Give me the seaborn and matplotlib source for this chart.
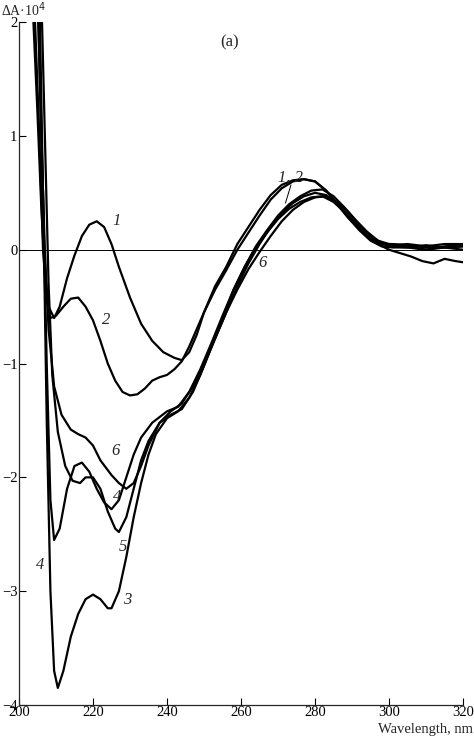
import matplotlib
matplotlib.use("Agg")
import matplotlib.pyplot as plt
import seaborn as sns
import pandas as pd

# wavelength (nm) / delta A * 1e4
c1_x = [203.5, 205, 206, 207, 208, 209.5, 211, 213, 215, 217, 219, 221, 223, 225, 227, 230, 233, 236, 239, 242, 244, 246, 248, 250, 253, 256, 259, 262, 265, 268, 271, 274, 277, 280, 283, 286, 289, 292, 295, 298, 301, 305, 310, 315, 320]
c1_y = [2.3, 1.2, 0.4, -0.2, -0.5, -0.6, -0.5, -0.25, -0.05, 0.12, 0.22, 0.25, 0.2, 0.05, -0.15, -0.42, -0.65, -0.8, -0.9, -0.95, -0.97, -0.9, -0.75, -0.55, -0.32, -0.15, 0.05, 0.2, 0.35, 0.48, 0.57, 0.61, 0.62, 0.6, 0.52, 0.4, 0.28, 0.17, 0.08, 0.03, 0.02, 0.02, 0.0, 0.03, 0.04]

c2_x = [204, 205.5, 206.5, 207.5, 208.5, 210, 212, 214, 216, 218, 220, 222, 224, 226, 228, 230, 232, 234, 236, 238, 240, 242, 244, 246, 248, 250, 253, 256, 259, 262, 265, 268, 271, 274, 277, 280, 283, 286, 289, 292, 295, 298, 301, 305, 310, 315, 320]
c2_y = [2.3, 1.0, 0.0, -0.45, -0.6, -0.58, -0.5, -0.43, -0.42, -0.5, -0.62, -0.8, -1.0, -1.15, -1.25, -1.28, -1.27, -1.22, -1.15, -1.12, -1.1, -1.05, -0.98, -0.85, -0.7, -0.55, -0.35, -0.18, 0.0, 0.15, 0.3, 0.44, 0.54, 0.6, 0.62, 0.6, 0.52, 0.4, 0.28, 0.18, 0.1, 0.05, 0.05, 0.04, 0.02, 0.02, 0.03]

c3_x = [205.5, 206.5, 207.5, 208.5, 209.5, 210.5, 212, 214, 216, 218, 220, 222, 224, 225, 227, 229, 231, 233, 235, 237, 240, 243, 246, 249, 252, 255, 258, 261, 264, 267, 270, 273, 276, 279, 282, 285, 288, 291, 294, 297, 300, 303, 306, 309, 312, 315, 318, 320]
c3_y = [2.3, 0.5, -1.5, -3.0, -3.7, -3.85, -3.7, -3.4, -3.2, -3.07, -3.03, -3.07, -3.15, -3.15, -3.0, -2.7, -2.35, -2.05, -1.8, -1.62, -1.48, -1.42, -1.3, -1.1, -0.85, -0.6, -0.35, -0.15, 0.02, 0.15, 0.27, 0.36, 0.42, 0.46, 0.47, 0.42, 0.33, 0.23, 0.13, 0.05, 0.0, -0.03, -0.06, -0.1, -0.12, -0.08, -0.1, -0.11]

c4_x = [205, 206.5, 207.5, 208.5, 209.5, 211, 213, 215, 217, 219, 221, 223, 225, 227, 229, 231, 233, 236, 240, 243, 246, 249, 252, 255, 258, 261, 264, 267, 270, 273, 276, 279, 282, 285, 288, 291, 294, 297, 300, 305, 310, 315, 320]
c4_y = [2.3, 0.5, -1.0, -2.2, -2.55, -2.45, -2.1, -1.9, -1.87, -1.95, -2.1, -2.22, -2.28, -2.2, -2.0, -1.8, -1.65, -1.52, -1.42, -1.38, -1.25, -1.05, -0.82, -0.58, -0.35, -0.15, 0.03, 0.17, 0.3, 0.4, 0.47, 0.52, 0.53, 0.47, 0.37, 0.26, 0.16, 0.08, 0.05, 0.03, 0.0, 0.02, 0.0]

c5_x = [206, 207, 208, 209, 210.5, 212.5, 214.5, 216.5, 218, 220, 222, 224, 226, 227, 229, 231, 233, 235, 238, 241, 244, 247, 250, 253, 256, 259, 262, 265, 268, 271, 274, 277, 280, 283, 286, 289, 292, 295, 298, 301, 305, 310, 315, 320]
c5_y = [2.3, 1.0, -0.3, -1.1, -1.6, -1.9, -2.03, -2.05, -2.0, -2.0, -2.1, -2.3, -2.45, -2.48, -2.35, -2.1, -1.85, -1.68, -1.52, -1.45, -1.4, -1.25, -1.02, -0.78, -0.55, -0.32, -0.12, 0.05, 0.2, 0.32, 0.41, 0.47, 0.5, 0.48, 0.4, 0.3, 0.2, 0.11, 0.05, 0.03, 0.02, 0.04, 0.02, 0.03]

c6_x = [205, 206, 207, 208, 209.5, 211.5, 214, 216, 218, 220, 222, 225, 227, 229, 231, 233, 235, 238, 241, 244, 247, 250, 253, 256, 259, 262, 265, 268, 271, 274, 277, 280, 283, 286, 289, 292, 295, 298, 301, 305, 310, 315, 320]
c6_y = [2.3, 1.0, 0.0, -0.7, -1.2, -1.45, -1.58, -1.62, -1.65, -1.72, -1.85, -1.98, -2.05, -2.1, -2.05, -1.9, -1.72, -1.52, -1.42, -1.35, -1.2, -1.0, -0.78, -0.55, -0.35, -0.17, -0.02, 0.12, 0.25, 0.35, 0.42, 0.46, 0.47, 0.42, 0.33, 0.22, 0.12, 0.06, 0.04, 0.05, 0.03, 0.05, 0.05]

curve_labels = ["1", "2", "3", "4", "5", "6"]
curves = [(c1_x, c1_y), (c2_x, c2_y), (c3_x, c3_y), (c4_x, c4_y), (c5_x, c5_y), (c6_x, c6_y)]

frames = []
for name, (xs, ys) in zip(curve_labels, curves):
    frames.append(pd.DataFrame({"wl": xs, "dA": ys, "curve": name}))
df = pd.concat(frames, ignore_index=True)

sns.set_style("ticks")
plt.rcParams["font.family"] = ["Liberation Serif", "DejaVu Serif"]

fig = plt.figure(figsize=(4.74, 7.37), dpi=100)
ax = fig.add_axes([0.04, 0.0434, 0.937, 0.9266])

sns.lineplot(data=df, x="wl", y="dA", units="curve", estimator=None, sort=False,
             color="black", linewidth=1.6, ax=ax, legend=False)
ax.axhline(0, color="black", linewidth=0.7)

ax.set_xlim(200, 320)
ax.set_ylim(-4, 2)
ax.set_xticks(range(200, 321, 20))
ax.set_yticks(range(-4, 3))
ax.set_yticklabels(["\u22124", "\u22123", "\u22122", "\u22121", "0", "1", "2"])
ax.tick_params(direction="in", length=5, width=0.8, labelsize=10.5, pad=1, colors="black")
for s in ["top", "right"]:
    ax.spines[s].set_visible(False)
for s in ["left", "bottom"]:
    ax.spines[s].set_linewidth(0.9)
ax.set_xlabel("")
ax.set_ylabel("")

lab_kw = dict(fontsize=12, style="italic", ha="center", va="center")
ax.text(226.5, 0.25, "1", **lab_kw)
ax.text(223.5, -0.62, "2", **lab_kw)
ax.text(229.2, -3.08, "3", **lab_kw)
ax.text(226.5, -2.17, "4", **lab_kw)
ax.text(205.7, -2.77, "4", **lab_kw)
ax.text(228, -2.61, "5", **lab_kw)
ax.text(226, -1.77, "6", **lab_kw)
ax.text(265.7, -0.12, "6", **lab_kw)
ax.text(273.3, 0.63, "1, 2", **lab_kw)
ax.plot([273.5, 272], [0.57, 0.41], color="black", linewidth=0.7)
ax.text(257, 1.82, "(a)", fontsize=12, ha="center", va="center")

fig.text(0.003, 1.0, "\u0394A\u00b710$^4$", fontsize=10, ha="left", va="top")
fig.text(0.998, 0.002, "Wavelength, nm", fontsize=10.5, ha="right", va="bottom")

fig.savefig("out.png", dpi=100)
